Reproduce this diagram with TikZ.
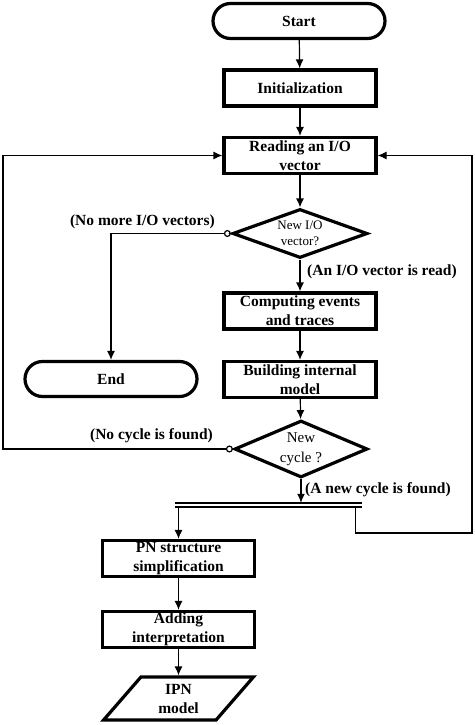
\documentclass[tikz,border=0pt]{standalone}
\usepackage{fontspec}
\setmainfont{Liberation Serif}
\usetikzlibrary{arrows.meta,positioning,shapes.geometric,shapes.misc}

\begin{document}
\begin{tikzpicture}[x=1pt,y=-1pt, >={Latex[length=9pt,width=8pt]},
    every node/.style={font=\fontsize{15.5}{19}\selectfont\bfseries,align=center,inner sep=1pt},
    process/.style={rectangle,draw,line width=3.2pt,minimum width=152pt,minimum height=36pt},
    terminal/.style={rounded rectangle,draw,line width=3.2pt,minimum width=174pt,minimum height=35pt},
    decision/.style={diamond,draw,line width=3.2pt,inner sep=0pt},
    io/.style={trapezium,trapezium left angle=56,trapezium right angle=124,trapezium stretches=true,draw,line width=3.2pt,minimum width=150pt,minimum height=43pt},
    line/.style={line width=1.2pt},
    nogo/.style={line width=1.2pt,{Circle[open,length=7pt,width=7pt]}->},
    note/.style={font=\fontsize{15.5}{19}\selectfont\bfseries}]
    \useasboundingbox (0,0) rectangle (474,725);
    % main column
    \node[terminal] (start) at (299,21) {Start};
    \node[process] (init) at (300,88) {Initialization};
    \node[process] (read) at (300,155.5) {Reading an I/O\\vector};
    \node[decision,aspect=2.64,minimum width=135pt,minimum height=49pt,font=\fontsize{13}{16}\selectfont] (dia1) at (300,233.5) {New I/O\\vector?};
    \node[process] (comp) at (300,311) {Computing events\\and traces};
    \node[process] (build) at (300,379.5) {Building internal\\model};
    \node[decision,aspect=2.2,minimum width=133pt,minimum height=57pt,font=\fontsize{15}{20}\selectfont] (dia2) at (301,449) {New\\cycle ?};
    \node[terminal] (end) at (111,379) {End};
    % synchronisation bar
    \node[draw=none,minimum width=187pt,minimum height=4pt,inner sep=0pt] (bar) at (268.5,505) {};
    \draw[line width=1.5pt] (bar.north west) -- (bar.north east) (bar.south west) -- (bar.south east);
    % lower column
    \node[process] (pn) at (178.5,558.5) {PN structure\\simplification};
    \node[process] (add) at (178.5,629.5) {Adding\\interpretation};
    \node[io] (ipn) at (178.5,698.5) {IPN\\model};
    % labels
    \node[note,anchor=east] (nomore) at (216,222) {(No more I/O vectors)};
    \node[note,anchor=west] (isread) at (306,272) {(An I/O vector is read)};
    \node[note,anchor=east] (nocycle) at (214,436) {(No cycle is found)};
    \node[note,anchor=west] (found) at (304,490) {(A new cycle is found)};
    % connectors
    \coordinate (lft) at (3,0);
    \coordinate (rgt) at (472,533);
    \coordinate (bout) at ([xshift=-7pt]bar.south east);
    \draw[line,->] (start) -- (init);
    \draw[line,->] (init) -- (read);
    \draw[line,->] (read) -- (dia1);
    \draw[line,->] (dia1) -- (comp);
    \draw[line,->] (comp) -- (build);
    \draw[line,->] (build) -- (dia2);
    \draw[line,->] (dia2.south) -- (dia2.south |- bar.north);
    \draw[nogo] (dia1.west) -| (end.north);
    \draw[nogo] (dia2.west) -- (dia2.west -| lft) |- (read.west);
    \draw[line,->] (bar.south -| pn) -- (pn);
    \draw[line,->] (bout) |- (rgt) |- (read.east);
    \draw[line,->] (pn) -- (add);
    \draw[line,->] (add) -- (ipn);
\end{tikzpicture}
\end{document}
